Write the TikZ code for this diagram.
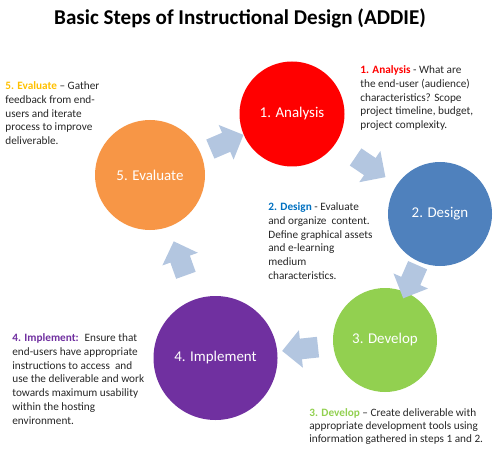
\documentclass[tikz,border=0pt]{standalone}
\usepackage{fontspec}
\setmainfont{Carlito}
\usepackage{tikz}
\usetikzlibrary{shapes.arrows}

\definecolor{anared}{HTML}{FF0000}
\definecolor{desblue}{HTML}{4F81BD}
\definecolor{devgreen}{HTML}{92D050}
\definecolor{implpurple}{HTML}{7030A0}
\definecolor{evalorange}{HTML}{F79646}
\definecolor{evalgold}{HTML}{FFC000}
\definecolor{desheading}{HTML}{0070C0}
\definecolor{arrowblue}{HTML}{B3C6E0}

\begin{document}
\begin{tikzpicture}[
   phase/.style={circle, fill=#1, inner sep=0pt, text=white, font=\fontsize{8.5}{10}\selectfont},
   note/.style={anchor=north west, inner sep=0pt, align=left, text=black!85, font=\fontsize{6.4}{7.9}\selectfont},
   cyclearrow/.style={single arrow, fill=arrowblue, draw=none, inner sep=0pt, text width=0.5cm,
      text height=0.2cm, text depth=0.2cm, single arrow head extend=0.17cm, single arrow tip angle=90,
      sloped, allow upside down}]
   \useasboundingbox (0,0) rectangle (10,9.12);
   \node[font=\fontsize{12}{14}\selectfont\bfseries] (title) at (4.8,8.76) {Basic Steps of Instructional Design (ADDIE)};
   % the five phases
   \node[phase=anared, minimum size=2.1cm] (analysis) at (5.84,6.84) {1. Analysis};
   \node[phase=desblue, minimum size=2.08cm] (design) at (8.80,4.84) {2. Design};
   \node[phase=devgreen, minimum size=2.08cm] (develop) at (7.70,2.32) {3. Develop};
   \node[phase=implpurple, minimum size=2.48cm] (implement) at (4.31,1.96) {4. Implement};
   \node[phase=evalorange, minimum size=2.2cm] (evaluate) at (3.00,5.62) {5. Evaluate};
   % arrows between the phases
   \path (evaluate) -- node[cyclearrow] (arrowea) {} (analysis);
   \path (analysis) -- node[cyclearrow] (arrowad) {} (design);
   \path (design) -- node[cyclearrow] (arrowdd) {} (develop);
   \path (develop) -- node[cyclearrow] (arrowdi) {} (implement);
   \path (implement) -- node[cyclearrow] (arrowie) {} (evaluate);
   % descriptions
   \node[note] (evalnote) at (0.10,7.50) {\textbf{\textcolor{evalgold}{5. Evaluate}} -- Gather\\feedback from end-\\users and iterate\\process to improve\\deliverable.};
   \node[note] (ananote) at (7.20,7.82) {\textbf{\textcolor{anared}{1. Analysis}} - What are\\the end-user (audience)\\characteristics? Scope\\project timeline, budget,\\project complexity.};
   \node[note] (desnote) at (5.36,5.08) {\textbf{\textcolor{desheading}{2. Design}} - Evaluate\\and organize~ content.\\Define graphical assets\\and e-learning\\medium\\characteristics.};
   \node[note] (implnote) at (0.24,2.46) {\textbf{\textcolor{implpurple}{4. Implement:}}~ Ensure that\\end-users have appropriate\\instructions to access~ and\\use the deliverable and work\\towards maximum usability\\within the hosting\\environment.};
   \node[note, font=\fontsize{6.4}{7.5}\selectfont] (devnote) at (6.18,0.96) {\textbf{\textcolor{devgreen}{3. Develop}} -- Create deliverable with\\appropriate development tools using\\information gathered in steps 1 and 2.};
\end{tikzpicture}
\end{document}
